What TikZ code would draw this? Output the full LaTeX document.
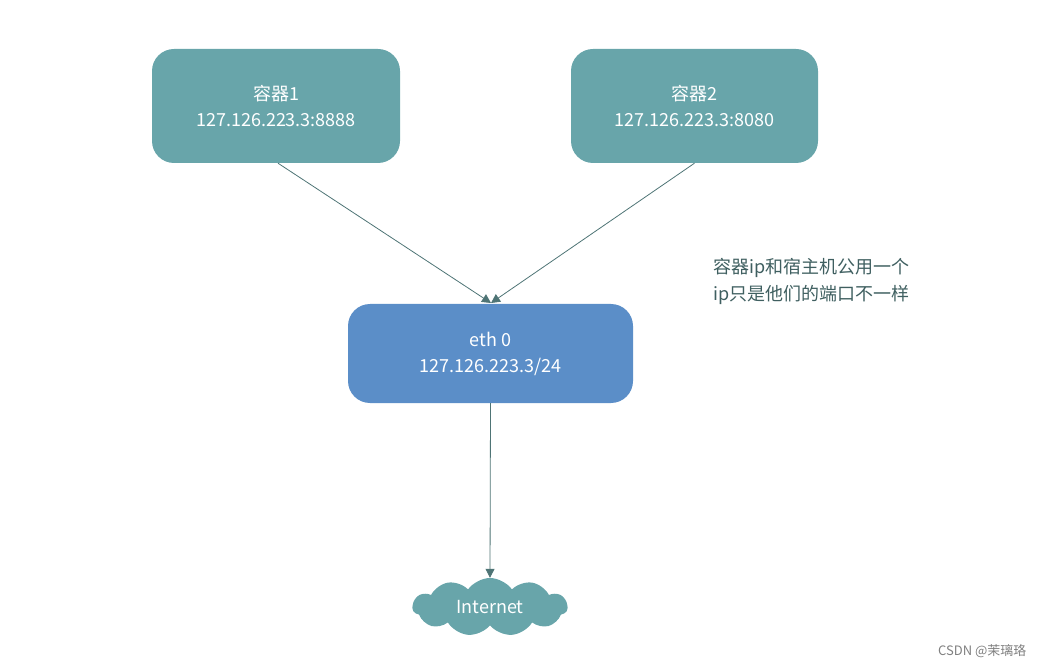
\documentclass[tikz,border=0pt]{standalone}
\usepackage{fontspec}
\setmainfont{Noto Sans CJK SC}
\usetikzlibrary{shapes.symbols,arrows.meta}
\definecolor{teal1}{HTML}{68A5AA}
\definecolor{blue1}{HTML}{5B8EC8}
\definecolor{line1}{HTML}{4E7475}
\definecolor{note}{HTML}{3F5F60}
\tikzset{
 box/.style={rounded corners=22pt,text=white,align=center,font=\fontsize{18}{26}\selectfont},
 conn/.style={draw=line1,line width=0.8pt,-{Triangle[length=9pt,width=9pt]}}
}
\begin{document}
\begin{tikzpicture}[x=1pt,y=-1pt]
\useasboundingbox (0,0) rectangle (1044,668);
\node[box,fill=teal1,minimum width=248pt,minimum height=114pt] (c1) at (276,106) {容器1\\127.126.223.3:8888};
\node[box,fill=teal1,minimum width=247pt,minimum height=114pt] (c2) at (694.5,106) {容器2\\127.126.223.3:8080};
\node[box,fill=blue1,minimum width=285pt,minimum height=99pt] (eth) at (490.5,353.5) {eth 0\\127.126.223.3/24};
\node[cloud,cloud puffs=11,cloud puff arc=110,aspect=3.2,fill=teal1,text=white,minimum width=155pt,minimum height=58pt,inner sep=0pt,font=\fontsize{18}{22}\selectfont] (net) at (490,607) {Internet};
\coordinate (t) at (491,303);
\draw[conn] (c1.south) ++(2,0) coordinate (a1) (a1) -- (t);
\draw[conn] (c2.south) -- (t);
\draw[conn] (eth.south) -- (net.north);
\node[anchor=west,text=note,align=left,font=\fontsize{18}{27}\selectfont] (n) at (710,281) {容器ip和宿主机公用一个\\ip只是他们的端口不一样};
\node[anchor=east,text=gray,font=\fontsize{13}{15}\selectfont] (w) at (1030,651) {CSDN @茉璃珞};
\end{tikzpicture}
\end{document}
